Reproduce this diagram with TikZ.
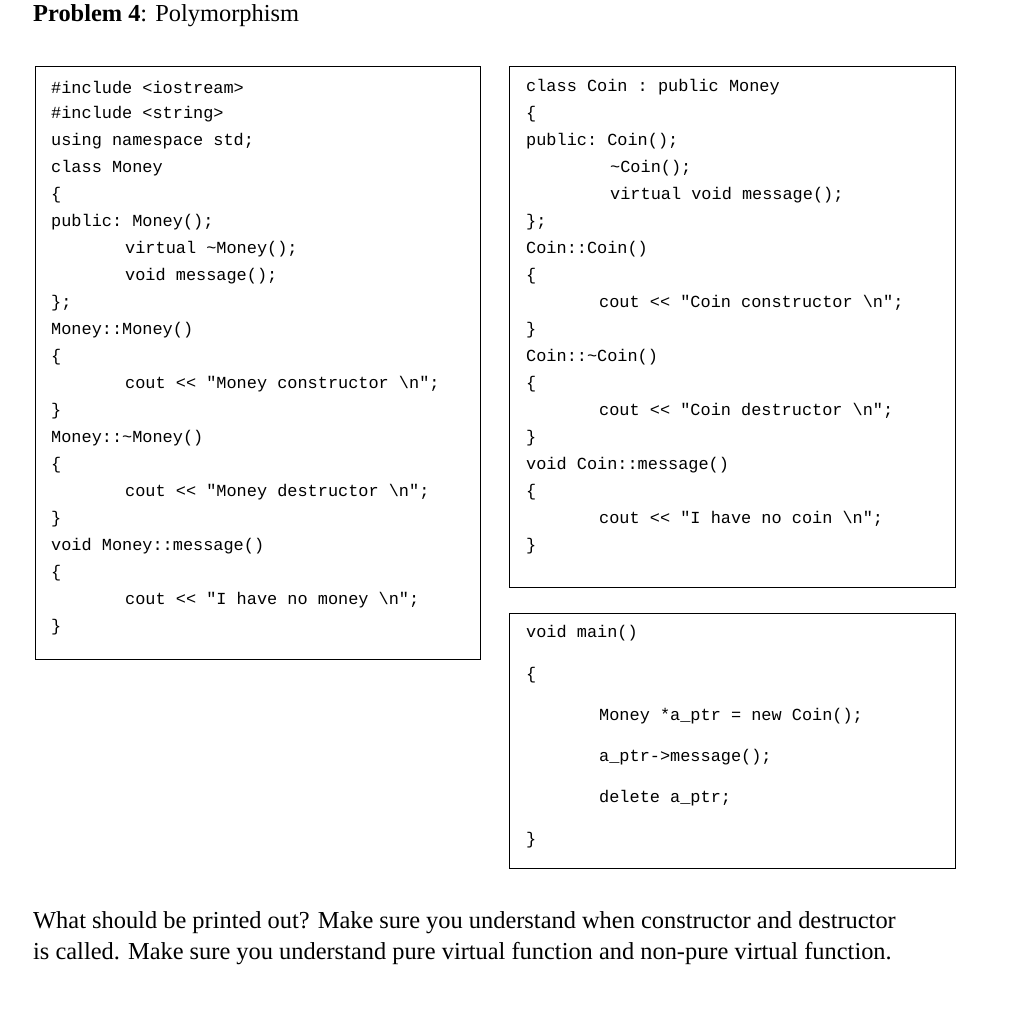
\documentclass[tikz,border=0pt]{standalone}
\usepackage{fontspec}
\setmainfont{Liberation Serif}
\setmonofont{Liberation Mono}
\begin{document}
\begin{tikzpicture}[x=1pt,y=-1pt,
  code/.style={anchor=west,inner sep=0pt,font=\ttfamily\fontsize{16.9}{18}\selectfont},
  box/.style={draw,line width=1pt},
  prose/.style={anchor=west,inner sep=0pt,font=\fontsize{24.4}{26}\selectfont}]
\useasboundingbox (0,0) rectangle (1018,1024);
\node[prose] (title) at (33,16) {\textbf{Problem 4}: Polymorphism};
\draw[box] (35,67) rectangle (480,659);
\draw[box] (509,67) rectangle (955,587);
\draw[box] (509,613) rectangle (955,868);
% left box
\node[code] (a1) at (51,87) {\#include <iostream>};
\node[code] (a2) at (51,114) {\#include <string>};
\node[code] (a3) at (51,141) {using namespace std;};
\node[code] (a4) at (51,168) {class Money};
\node[code] (a5) at (51,195) {\{};
\node[code] (a6) at (51,222) {public: Money();};
\node[code] (a7) at (125,249) {virtual \textasciitilde Money();};
\node[code] (a8) at (125,276) {void message();};
\node[code] (a9) at (51,303) {\};};
\node[code] (a10) at (51,330) {Money::Money()};
\node[code] (a11) at (51,357) {\{};
\node[code] (a12) at (125,384) {cout << "Money constructor \textbackslash n";};
\node[code] (a13) at (51,411) {\}};
\node[code] (a14) at (51,438) {Money::\textasciitilde Money()};
\node[code] (a15) at (51,465) {\{};
\node[code] (a16) at (125,492) {cout << "Money destructor \textbackslash n";};
\node[code] (a17) at (51,519) {\}};
\node[code] (a18) at (51,546) {void Money::message()};
\node[code] (a19) at (51,573) {\{};
\node[code] (a20) at (125,600) {cout << "I have no money \textbackslash n";};
\node[code] (a21) at (51,627) {\}};
% right top
\node[code] (b1) at (526,87) {class Coin : public Money};
\node[code] (b2) at (526,114) {\{};
\node[code] (b3) at (526,141) {public: Coin();};
\node[code] (b4) at (610,168) {\textasciitilde Coin();};
\node[code] (b5) at (610,195) {virtual void message();};
\node[code] (b6) at (526,222) {\};};
\node[code] (b7) at (526,249) {Coin::Coin()};
\node[code] (b8) at (526,276) {\{};
\node[code] (b9) at (599,303) {cout << "Coin constructor \textbackslash n";};
\node[code] (b10) at (526,330) {\}};
\node[code] (b11) at (526,357) {Coin::\textasciitilde Coin()};
\node[code] (b12) at (526,384) {\{};
\node[code] (b13) at (599,411) {cout << "Coin destructor \textbackslash n";};
\node[code] (b14) at (526,438) {\}};
\node[code] (b15) at (526,465) {void Coin::message()};
\node[code] (b16) at (526,492) {\{};
\node[code] (b17) at (599,519) {cout << "I have no coin \textbackslash n";};
\node[code] (b18) at (526,546) {\}};
% main
\node[code] (c1) at (526,633) {void main()};
\node[code] (c2) at (526,675) {\{};
\node[code] (c3) at (599,716) {Money *a\_ptr = new Coin();};
\node[code] (c4) at (599,757) {a\_ptr->message();};
\node[code] (c5) at (599,798) {delete a\_ptr;};
\node[code] (c6) at (526,840) {\}};
\node[prose] (q1) at (33,923) {What should be printed out? Make sure you understand when constructor and destructor};
\node[prose] (q2) at (33,954) {is called. Make sure you understand pure virtual function and non-pure virtual function.};
\end{tikzpicture}
\end{document}
